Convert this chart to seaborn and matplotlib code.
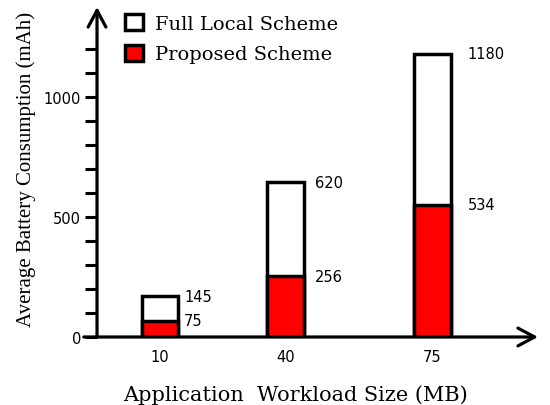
import matplotlib
matplotlib.use("Agg")
import matplotlib.pyplot as plt
import seaborn as sns
import pandas as pd
from matplotlib.ticker import FuncFormatter

# -----------------------------
# Data
# -----------------------------
workload = [10, 40, 75]                 # MB
full_local = [170, 645, 1180]           # bar heights as drawn (mAh)
proposed = [68, 254, 550]
full_labels = ["145", "620", "1180"]    # numbers printed next to the bars
proposed_labels = ["75", "256", "534"]

df = pd.DataFrame({"workload": workload,
                   "full": full_local,
                   "proposed": proposed})

# -----------------------------
# Style
# -----------------------------
sns.set_style("white", {"xtick.bottom": False, "ytick.left": True,
                        "text.color": "black", "axes.labelcolor": "black",
                        "xtick.color": "black", "ytick.color": "black"})
plt.rcParams["font.family"] = ["DejaVu Sans"]
serif = ["DejaVu Serif"]

fig = plt.figure(figsize=(5.5, 4.06), dpi=100)
ax = fig.add_axes([0.1764, 0.1675, 0.8018, 0.8128])

# -----------------------------
# Bars (red drawn on top of white)
# -----------------------------
sns.barplot(data=df, x="workload", y="full", native_scale=True, orient="x",
            color="white", saturation=1, edgecolor="black", linewidth=2.5,
            width=0.29, errorbar=None, label="Full Local Scheme", ax=ax)
sns.barplot(data=df, x="workload", y="proposed", native_scale=True, orient="x",
            color="#ff0000", saturation=1, edgecolor="black", linewidth=2.5,
            width=0.29, errorbar=None, label="Proposed Scheme", ax=ax)

# value labels
label_dx = [5.8, 7.0, 8.4]
for x, h, t, dx in zip(workload, full_local, full_labels, label_dx):
    ax.text(x + dx, h, t, fontsize=10.5, va="center", ha="left", color="black")
for x, h, t, dx in zip(workload, proposed, proposed_labels, label_dx):
    ax.text(x + dx, h, t, fontsize=10.5, va="center", ha="left", color="black")

# -----------------------------
# Axes
# -----------------------------
ax.set_xlim(-5.0, 100.2)
ax.set_ylim(0, 1375)
for s in ax.spines.values():
    s.set_visible(False)

ax.set_xticks(workload)
ax.set_xticklabels([str(w) for w in workload])
ax.set_yticks([t for t in range(0, 1300, 100)])
ax.yaxis.set_major_formatter(FuncFormatter(lambda v, p: f"{int(v)}" if v % 500 == 0 else ""))
ax.tick_params(axis="y", left=True, direction="out", length=8.6, width=2.2,
               pad=3, labelsize=10.5, colors="black")
ax.tick_params(axis="x", bottom=False, length=0, pad=9, labelsize=10.5, colors="black")

# axis lines with open arrow heads
arrow = dict(arrowstyle="->,head_length=0.6,head_width=0.32", lw=2.3,
             color="black", shrinkA=0, shrinkB=0, mutation_scale=20)
ax.annotate("", xy=(0, 1), xytext=(0, 0), xycoords="axes fraction",
            arrowprops=arrow, annotation_clip=False)
ax.annotate("", xy=(1, 0), xytext=(-0.03, 0), xycoords="axes fraction",
            arrowprops=arrow, annotation_clip=False)

ax.set_xlabel("Application  Workload Size (MB)", family=serif, fontsize=15)
ax.set_ylabel("Average Battery Consumption (mAh)", family=["Liberation Serif"],
              fontsize=15)
ax.xaxis.set_label_coords(0.449, -0.142)
ax.yaxis.set_label_coords(-0.138, 0.51)

ax.legend(loc="upper left", bbox_to_anchor=(0.055, 0.99), frameon=False,
          prop={"family": serif, "size": 14}, handlelength=0.9,
          handleheight=0.9, handletextpad=0.65, labelspacing=0.6,
          borderaxespad=0, borderpad=0.2)

plt.savefig("out.png", dpi=100)
